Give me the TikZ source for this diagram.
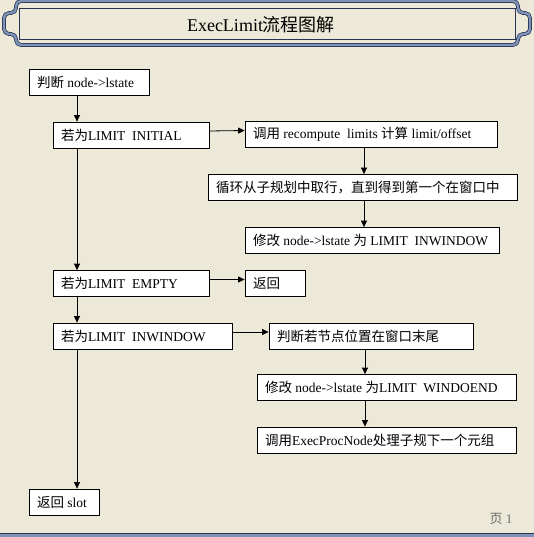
\documentclass[tikz,border=0pt]{standalone}
\usepackage{fontspec}
\setmainfont{Liberation Serif}
\newfontfamily\cjk{Noto Sans CJK SC}
\newcommand{\zh}[1]{{\cjk #1}}
\usetikzlibrary{arrows.meta}
\definecolor{paper}{RGB}{236,233,216}
\definecolor{bandblue}{RGB}{126,146,184}
\definecolor{bandedge}{RGB}{40,52,82}
\definecolor{pagegray}{RGB}{110,110,110}

\begin{document}
\begin{tikzpicture}[x=1pt,y=1pt,yscale=-1,xscale=1,
  box/.style={draw=black,fill=white,line width=0.8pt,minimum height=26,inner xsep=8pt,inner ysep=0pt,align=flush left,font=\fontsize{13.5}{16}\selectfont},
  flow/.style={line width=0.8pt,-{Triangle[length=6.5pt,width=6pt]}},
  band/.style={draw=bandedge,double=bandblue,double distance=2.4pt,line width=0.7pt}]
					%set diagram size and background
					\fill[paper] (0,0) rectangle (534,537);
					\useasboundingbox (0,0) rectangle (534,537);
					
					%Banner
					\draw[band,rounded corners=5] (16,1) -- (16,13) -- (4,13) -- (4,34) -- (16,34) -- (16,45) -- (518,45) -- (518,34) -- (530,34) -- (530,13) -- (518,13) -- (518,1) -- cycle;
					\draw[bandedge,line width=0.8pt] (19,8) rectangle (515,39);
					%Bottom bar
					\fill[bandblue] (0,533.5) rectangle (534,538);
					\draw[bandedge,line width=0.8pt] (0,533.5) -- (534,533.5);
					
					% Text Node
					\node[font=\fontsize{18}{20}\selectfont] (title) at (261,25) {ExecLimit\zh{流程图解}};
					% Text Node
					\node[anchor=east,text=pagegray,font=\fontsize{13}{15}\selectfont] (page) at (516,519) {\zh{页} 1};
					
					% Text Node
					\node[box,text width=104] (judge) at (89,82) {\zh{判断} node->lstate};
					% Text Node
					\node[box,text width=140] (initial) at (131,135) {\zh{若为}LIMIT\ \ INITIAL};
					% Text Node
					\node[box,text width=236] (recomp) at (371,134.5) {\zh{调用} recompute\ \ limits \zh{计算} limit/offset};
					% Text Node
					\node[box,text width=293] (loop) at (362.5,187.5) {\zh{循环从子规划中取行，直到得到第一个在窗口中}};
					% Text Node
					\node[box,text width=238] (setwin) at (372,240.5) {\zh{修改} node->lstate \zh{为} LIMIT\ \ INWINDOW};
					% Text Node
					\node[box,text width=140] (empty) at (131,283.5) {\zh{若为}LIMIT\ \ EMPTY};
					% Text Node
					\node[box,text width=44] (ret) at (275,283.5) {\zh{返回}};
					% Text Node
					\node[box,text width=163] (inwin) at (142.5,336) {\zh{若为}LIMIT\ \ INWINDOW};
					% Text Node
					\node[box,text width=188] (check) at (371,336) {\zh{判断若节点位置在窗口末尾}};
					% Text Node
					\node[box,text width=243] (setend) at (386.5,387.5) {\zh{修改} node->lstate \zh{为}LIMIT\ \ WINDOEND};
					% Text Node
					\node[box,text width=243] (call) at (386.5,440) {\zh{调用}ExecProcNode\zh{处理子规下一个元组}};
					% Text Node
					\node[box,text width=54] (retslot) at (64,502) {\zh{返回} slot};
					
					\coordinate (trunk) at (77,0);
					\coordinate (colA) at (364,0);
					\coordinate (colB) at (365,0);
					
					%Straight Lines
					\draw[flow] (judge.south -| trunk) -- (initial.north -| trunk);
					%Straight Lines
					\draw[flow] (initial.south -| trunk) -- (empty.north -| trunk);
					%Straight Lines
					\draw[flow] (empty.south -| trunk) -- (inwin.north -| trunk);
					%Straight Lines
					\draw[flow] (inwin.south -| trunk) -- (retslot.north -| trunk);
					%Straight Lines
					\draw[flow] ([yshift=-4]initial.east) -- ([yshift=-4]recomp.west);
					%Straight Lines
					\draw[flow] ([yshift=-4]empty.east) -- ([yshift=-4]ret.west);
					%Straight Lines
					\draw[flow] ([yshift=-4]inwin.east) -- ([yshift=-4]check.west);
					%Straight Lines
					\draw[flow] (recomp.south -| colA) -- (loop.north -| colA);
					%Straight Lines
					\draw[flow] (loop.south -| colA) -- (setwin.north -| colA);
					%Straight Lines
					\draw[flow] (check.south -| colB) -- (setend.north -| colB);
					%Straight Lines
					\draw[flow] (setend.south -| colB) -- (call.north -| colB);
					
					\end{tikzpicture}
\end{document}
